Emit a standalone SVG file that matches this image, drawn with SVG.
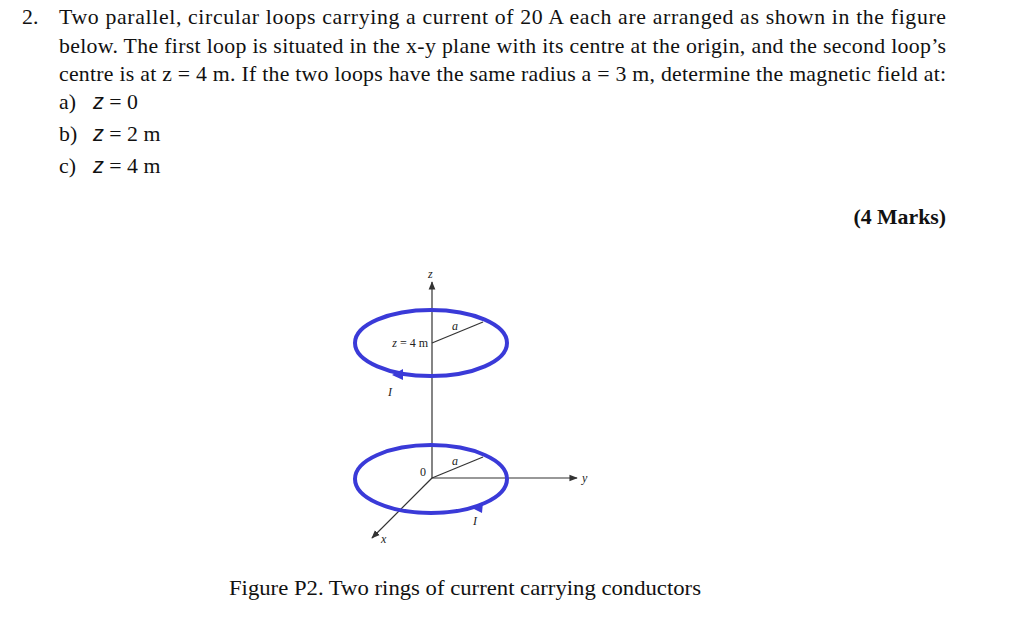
<svg xmlns="http://www.w3.org/2000/svg" width="1024" height="627" viewBox="0 0 1024 627">
<style>
.t{font-family:"Liberation Serif",serif;font-size:21.8px;fill:#111}
.s{font-family:"Liberation Serif",serif;font-size:12px;fill:#222}
.i{font-style:italic}
.ax{stroke:#333;stroke-width:1.2;fill:none}
.loop{stroke:#3a3ad8;stroke-width:4;fill:none}
</style>
<defs>
<marker id="ah" viewBox="0 0 10 10" refX="9" refY="5" markerWidth="7" markerHeight="7" orient="auto"><path d="M0,1 L10,5 L0,9 Z" fill="#333"/></marker>
</defs>
<rect width="1024" height="627" fill="#fff"/>
<g id="question">
<text class="t" x="22" y="24">2.</text>
<text class="t" x="59" y="24" textLength="887" lengthAdjust="spacing">Two parallel, circular loops carrying a current of 20 A each are arranged as shown in the figure</text>
<text class="t" x="59" y="53" textLength="887" lengthAdjust="spacing">below. The first loop is situated in the x-y plane with its centre at the origin, and the second loop’s</text>
<text class="t" x="59" y="81" textLength="887" lengthAdjust="spacing">centre is at z = 4 m. If the two loops have the same radius a = 3 m, determine the magnetic field at:</text>
<text class="t" x="59" y="109">a)</text><text class="t" x="93" y="109"><tspan class="i" font-family="Liberation Sans">z</tspan> = 0</text>
<text class="t" x="59" y="141">b)</text><text class="t" x="93" y="141"><tspan class="i" font-family="Liberation Sans">z</tspan> = 2 m</text>
<text class="t" x="59" y="173">c)</text><text class="t" x="93" y="173"><tspan class="i" font-family="Liberation Sans">z</tspan> = 4 m</text>
<text class="t" x="946" y="224" text-anchor="end" font-weight="bold">(4 Marks)</text>
</g>
<g id="connectors">
<line class="ax" x1="432" y1="478" x2="432" y2="282" marker-end="url(#ah)"/>
<line class="ax" x1="432" y1="478" x2="577" y2="478" marker-end="url(#ah)"/>
<line class="ax" x1="432" y1="478" x2="372" y2="538" marker-end="url(#ah)"/>
<line class="ax" x1="432" y1="343" x2="483" y2="322"/>
<line class="ax" x1="432" y1="478" x2="483" y2="457"/>
</g>
<g id="top-loop">
<ellipse class="loop" cx="431" cy="343" rx="76" ry="33"/>
<path d="M392,375 L403,369 L403,380 Z" fill="#3a3ad8"/>
<text class="s i" x="388" y="396">I</text>
<text class="s" x="428" y="347" text-anchor="end"><tspan class="i">z</tspan> = 4 m</text>
<text class="s i" x="452" y="330">a</text>
</g>
<g id="bottom-loop">
<ellipse class="loop" cx="431" cy="479" rx="76" ry="34"/>
<path d="M472,508 L483,502 L482,513 Z" fill="#3a3ad8"/>
<text class="s i" x="473" y="525">I</text>
<text class="s" x="426" y="476" text-anchor="end">0</text>
<text class="s i" x="452" y="465">a</text>
</g>
<g id="axis-labels">
<text class="s i" x="428" y="278">z</text>
<text class="s i" x="582" y="482">y</text>
<text class="s i" x="381" y="543">x</text>
</g>
<text class="t" x="229" y="595" textLength="472" lengthAdjust="spacingAndGlyphs">Figure P2. Two rings of current carrying conductors</text>
</svg>
